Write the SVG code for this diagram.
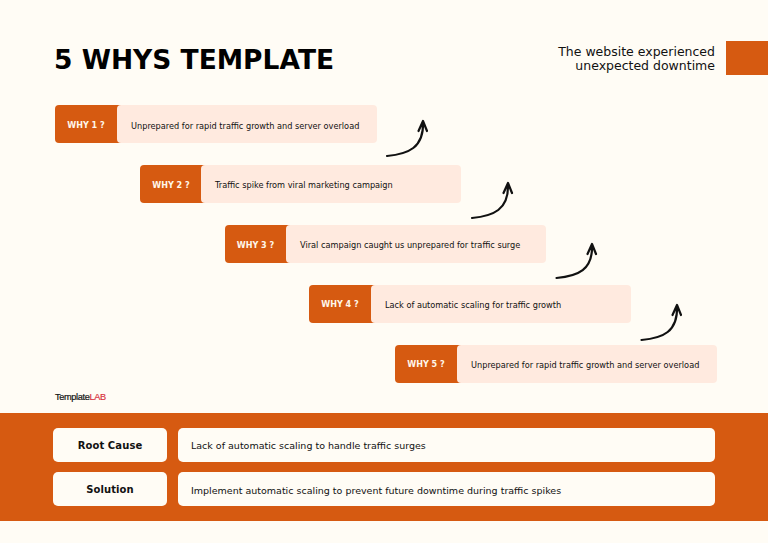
<svg xmlns="http://www.w3.org/2000/svg" width="768" height="543" viewBox="0 0 768 543">
<style>
text{font-family:"DejaVu Sans",sans-serif;fill:#111}
.bar{fill:#d65a11}
.pale{fill:#ffeadf}
.why{font-size:8.1px;font-weight:700;fill:#fff6ea;text-anchor:middle}
.ans{font-size:8.2px}
.card{fill:#fffcf5}
.lab{font-size:10px;font-weight:700;text-anchor:middle;letter-spacing:.1px}
.res{font-size:9.5px}
.arr{fill:none;stroke:#111;stroke-width:2.200;stroke-linecap:round;stroke-linejoin:round}
</style>
<rect width="768" height="543" fill="#fffcf5"/>
<g id="header">
<text x="54" y="68.500" font-size="26.500" font-weight="700" style="fill:#000">5 WHYS TEMPLATE</text>
<text x="715" y="56" font-size="12.500" text-anchor="end">The website experienced</text>
<text x="715" y="70" font-size="12.500" text-anchor="end">unexpected downtime</text>
<rect x="726" y="41" width="42" height="34" class="bar"/>
</g>
<g id="why1"><rect x="55" y="105" width="100" height="38" rx="4" class="bar"/><rect x="117" y="105" width="260" height="38" rx="4" class="pale"/><text x="86" y="128" class="why">WHY 1 ?</text><text x="131" y="129" class="ans">Unprepared for rapid traffic growth and server overload</text></g>
<g id="why2"><rect x="140" y="165" width="100" height="38" rx="4" class="bar"/><rect x="201" y="165" width="260" height="38" rx="4" class="pale"/><text x="171" y="188" class="why">WHY 2 ?</text><text x="215" y="188" class="ans">Traffic spike from viral marketing campaign</text></g>
<g id="why3"><rect x="225" y="225" width="100" height="38" rx="4" class="bar"/><rect x="286" y="225" width="260" height="38" rx="4" class="pale"/><text x="255.500" y="248" class="why">WHY 3 ?</text><text x="300" y="248" class="ans">Viral campaign caught us unprepared for traffic surge</text></g>
<g id="why4"><rect x="309" y="285" width="100" height="38" rx="4" class="bar"/><rect x="371" y="285" width="260" height="38" rx="4" class="pale"/><text x="340" y="307" class="why">WHY 4 ?</text><text x="385" y="308" class="ans">Lack of automatic scaling for traffic growth</text></g>
<g id="why5"><rect x="395" y="345" width="100" height="38" rx="4" class="bar"/><rect x="457" y="345" width="260" height="38" rx="4" class="pale"/><text x="426" y="367" class="why">WHY 5 ?</text><text x="471" y="368" class="ans">Unprepared for rapid traffic growth and server overload</text></g>
<g id="connectors">
<path class="arr" d="M387 156C408 154 424 148 423 122M418.500 131L423 121L427 131"/>
<path class="arr" d="M472 218C493 216 509 210 508 184M503.500 193L508 183L512 193"/>
<path class="arr" d="M556.500 278C578 276 593 270 592 245M587.500 254L592 244L596 254"/>
<path class="arr" d="M641.500 340C663 338 678 332 677 306M672.500 315L677 305L681 315"/>
</g>
<g id="logo"><text x="55" y="400" font-size="9.200" style="font-family:'Liberation Sans',sans-serif;letter-spacing:-.35px;stroke:#111;stroke-width:.2">Template<tspan style="fill:#d8343f;stroke:#d8343f">LAB</tspan></text></g>
<rect id="band" x="0" y="413" width="768" height="108" class="bar"/>
<g id="root-label"><rect x="53" y="428" width="114" height="34" rx="5" class="card"/><text x="110" y="448.500" class="lab">Root Cause</text></g>
<g id="root-value"><rect x="178" y="428" width="537" height="34" rx="5" class="card"/><text x="191" y="449" class="res">Lack of automatic scaling to handle traffic surges</text></g>
<g id="solution-label"><rect x="53" y="472" width="114" height="34" rx="5" class="card"/><text x="110" y="493" class="lab">Solution</text></g>
<g id="solution-value"><rect x="178" y="472" width="537" height="34" rx="5" class="card"/><text x="191" y="494" class="res">Implement automatic scaling to prevent future downtime during traffic spikes</text></g>
</svg>
